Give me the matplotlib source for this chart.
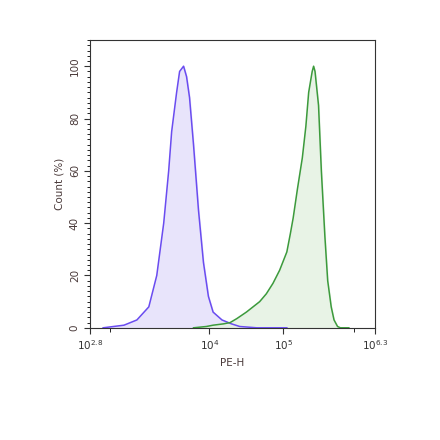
import numpy as np
import matplotlib
matplotlib.use("Agg")
import matplotlib.pyplot as plt

# log10(PE-H) and Count (%)
purple_log = [2.93, 3.14, 3.27, 3.39, 3.47, 3.54, 3.59, 3.62, 3.67, 3.70, 3.74, 3.77, 3.80, 3.84, 3.89, 3.94, 3.99, 4.05, 4.17, 4.30, 4.41, 4.64, 5.05]
purple_cnt = [0, 1, 3, 8, 20, 40, 60, 75, 90, 98, 100, 96, 88, 70, 45, 25, 12, 6, 3, 1.5, 0.5, 0, 0]
green_log = [3.84, 3.97, 4.05, 4.19, 4.28, 4.37, 4.50, 4.59, 4.68, 4.77, 4.86, 4.95, 5.05, 5.10, 5.14, 5.20, 5.27, 5.32, 5.36, 5.41, 5.43, 5.45, 5.50, 5.54, 5.59, 5.63, 5.68, 5.72, 5.77, 5.81, 5.93]
green_cnt = [0, 0.5, 1, 1.5, 2, 3.5, 6, 8, 10, 13, 17, 22, 29, 36, 42, 53, 65, 77, 90, 98, 100, 98, 85, 60, 35, 18, 8, 3, 0.5, 0, 0]
xtick_exps = [2.8, 4, 5, 6.3]
xtick_labels = [r"$10^{2.8}$", r"$10^{4}$", r"$10^{5}$", r"$10^{6.3}$"]

# axis is compressed below 10^4 (logicle-like display)
_lk = np.array([2.8, 4.0, 5.0, 6.3])
_pk = np.array([0.0, 358.0, 580.0, 855.0])
def fwd(v):
    v = np.asarray(v, dtype=float)
    lv = np.log10(np.clip(v, 1e-3, None))
    return np.interp(lv, _lk, _pk, left=-1e3, right=2e3)
def inv(p):
    return 10 ** np.interp(np.asarray(p, dtype=float), _pk, _lk)

fig = plt.figure(figsize=(4.4, 4.4), dpi=100)
ax = fig.add_axes([0.205, 0.255, 0.647, 0.654])
ax.set_xscale('function', functions=(fwd, inv))

px = 10 ** np.array(purple_log)
gx = 10 ** np.array(green_log)
ax.fill_between(px, purple_cnt, color='#e8e4fb', zorder=1)
ax.plot(px, purple_cnt, color='#6a4cf0', lw=1.1, zorder=3)
ax.fill_between(gx, green_cnt, color='#e6f2e4', alpha=0.9, zorder=2)
ax.plot(gx, green_cnt, color='#3c9a3c', lw=1.1, zorder=3)

ax.set_xlim(10 ** 2.8, 10 ** 6.3)
ax.set_ylim(0, 110)
ax.set_xticks([10 ** e for e in xtick_exps])
ax.set_xticklabels(xtick_labels, fontsize=7.5)
ax.set_xticks([1e3, 1e6], minor=True)
ax.set_xticklabels([], minor=True)
ax.set_yticks(np.arange(0, 111, 20))
ax.set_yticks(np.arange(0, 111, 2), minor=True)
for lbl in ax.get_yticklabels():
    lbl.set_rotation(90)
    lbl.set_va('center')
ax.tick_params(axis='y', labelsize=7.5, length=4, colors='#333333', labelcolor='#4a3a3a')
ax.tick_params(axis='y', which='minor', length=2)
ax.tick_params(axis='x', length=4, labelsize=7.5, colors='#333333')
ax.tick_params(axis='x', which='minor', length=3)
ax.set_ylabel("Count (%)", fontsize=7.5, color='#4a3a3a')
ax.set_xlabel("PE-H", fontsize=7.5, color='#4a3a3a')
for s in ax.spines.values():
    s.set_color('#333333')
    s.set_linewidth(0.8)
fig.savefig("out.png", dpi=100, facecolor='white')
